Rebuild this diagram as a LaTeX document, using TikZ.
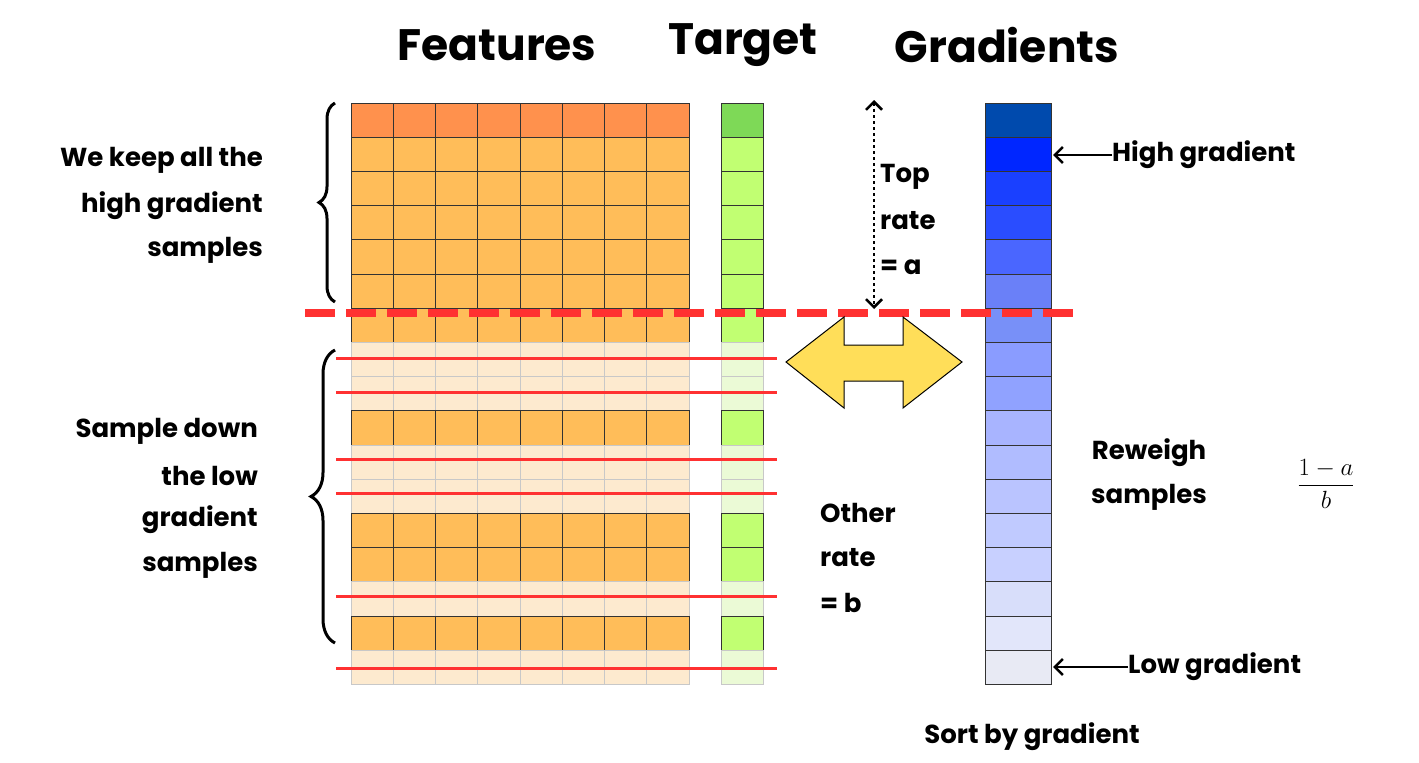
\documentclass[tikz,border=0pt]{standalone}
\usepackage{fontspec}
\setmainfont{Poppins}[BoldFont=* Bold]
\usetikzlibrary{decorations.pathreplacing,arrows.meta}
\definecolor{ftop}{HTML}{FF914D}
\definecolor{fcell}{HTML}{FFBD59}
\definecolor{ffade}{HTML}{FDEACF}
\definecolor{ttop}{HTML}{7ED957}
\definecolor{tcell}{HTML}{C1FF72}
\definecolor{tfade}{HTML}{EBFAD6}
\definecolor{fadeline}{HTML}{C8C8C8}
\definecolor{redl}{HTML}{FF3131}
\definecolor{yel}{HTML}{FFDE59}
\tikzset{
 cellbox/.style={draw=black!80, line width=0.8pt},
 fadebox/.style={draw=fadeline, line width=0.8pt},
 lbl/.style={font=\fontsize{26}{30}\selectfont\bfseries, inner sep=0pt},
 ttl/.style={font=\fontsize{44}{50}\selectfont\bfseries, inner sep=0pt},
 redline/.style={draw=redl, line width=3pt},
 brc/.style={decorate, decoration={brace,amplitude=16pt}, line width=3pt}
}
\begin{document}
\begin{tikzpicture}[x=1pt,y=-1pt]
\useasboundingbox (0,0) rectangle (1419,763);
\def\rh{34.2}
% grid
\foreach \r in {0,...,16}{
  \pgfmathsetmacro{\yt}{103+\rh*\r}
  \pgfmathsetmacro{\yb}{103+\rh*(\r+1)}
  \def\kind{1}
  \ifnum\r=0 \def\kind{0}\fi
  \ifnum\r=7 \def\kind{2}\fi
  \ifnum\r=8 \def\kind{2}\fi
  \ifnum\r=10 \def\kind{2}\fi
  \ifnum\r=11 \def\kind{2}\fi
  \ifnum\r=14 \def\kind{2}\fi
  \ifnum\r=16 \def\kind{2}\fi
  \foreach \c in {0,...,7}{
    \pgfmathsetmacro{\xl}{351+42.25*\c}
    \pgfmathsetmacro{\xr}{351+42.25*(\c+1)}
    \ifnum\kind=0 \draw[cellbox,fill=ftop] (\xl,\yt) rectangle (\xr,\yb);\fi
    \ifnum\kind=1 \draw[cellbox,fill=fcell] (\xl,\yt) rectangle (\xr,\yb);\fi
    \ifnum\kind=2 \draw[fadebox,fill=ffade] (\xl,\yt) rectangle (\xr,\yb);\fi
  }
  \ifnum\kind=0 \draw[cellbox,fill=ttop] (721,\yt) rectangle (763,\yb);\fi
  \ifnum\kind=1 \draw[cellbox,fill=tcell] (721,\yt) rectangle (763,\yb);\fi
  \ifnum\kind=2 \draw[fadebox,fill=tfade] (721,\yt) rectangle (763,\yb);\fi
}
% gradients
\def\gcols{{"004AAD","0026FF","1A40FF","2A4DFF","4A66FF","6A80F8","7890F8","8A9CFF","90A2FF","A8B4FF","B0BCFF","BAC4FF","C0CAFF","C8D0FF","D8DEFA","E2E6FA","E8EAF4"}}
\foreach \r in {0,...,16}{
  \pgfmathsetmacro{\yt}{103+\rh*\r}
  \pgfmathsetmacro{\yb}{103+\rh*(\r+1)}
  \pgfmathsetmacro{\hx}{\gcols[\r]}
  \definecolor{gc}{HTML}{\hx}
  \draw[cellbox,fill=gc] (985,\yt) rectangle (1051,\yb);
}
% red lines
\foreach \y in {358,392,459,493,596,668}{
  \coordinate (rl\y) at (336,\y); \coordinate (rr\y) at (777,\y);
  \draw[redline] (rl\y) -- (rr\y);
}
\coordinate (dl) at (305,313); \coordinate (dr) at (1075,313);
\draw[redl, line width=8pt, dash pattern=on 30pt off 11pt] (dl) -- (dr);
% top rate arrow
\coordinate (ta) at (874,100); \coordinate (tb) at (874,309);
\draw[dashed, line width=2.5pt, {Straight Barb[length=8pt]}-{Straight Barb[length=8pt]}] (ta) -- (tb);
% yellow double arrow
\draw[fill=yel, draw=black, line width=1pt] (786,362) -- (844,317) -- (844,345) -- (903,345) -- (903,317) -- (962,362) -- (903,408) -- (903,381) -- (844,381) -- (844,408) -- cycle;
% braces
\coordinate (b1a) at (335,302); \coordinate (b1b) at (335,103);
\draw[brc] (b1a) -- (b1b);
\coordinate (b2a) at (335,643); \coordinate (b2b) at (335,350);
\draw[brc, decoration={brace,amplitude=24pt}] (b2a) -- (b2b);
% titles
\node[ttl] (tf) at (497,45) {Features};
\node[ttl] (tt) at (743,45) {Target};
\node[ttl] (tg) at (1007,45) {Gradients};
% left labels
\node[lbl, anchor=east] (l1) at (263,160) {We keep all the};
\node[lbl, anchor=east] (l2) at (263,206) {high gradient};
\node[lbl, anchor=east] (l3) at (263,250) {samples};
\node[lbl, anchor=east] (l4) at (258,431) {Sample down};
\node[lbl, anchor=east] (l5) at (258,476) {the low};
\node[lbl, anchor=east] (l6) at (258,520) {gradient};
\node[lbl, anchor=east] (l7) at (258,565) {samples};
% rates
\node[lbl, anchor=west] (r1) at (880,177) {Top};
\node[lbl, anchor=west] (r2) at (880,221) {rate};
\node[lbl, anchor=west] (r3) at (880,267) {= a};
\node[lbl, anchor=west] (o1) at (820,513) {Other};
\node[lbl, anchor=west] (o2) at (820,558) {rate};
\node[lbl, anchor=west] (o3) at (820,603) {= b};
% right
\node[lbl, anchor=west] (hg) at (1112,155) {High gradient};
\node[lbl, anchor=west] (lg) at (1128,667) {Low gradient};
\coordinate (hgc) at (1053,155); \coordinate (lgc) at (1053,667);
\draw[line width=2.5pt, -{Straight Barb[length=8pt]}] (hg.west) -- (hgc);
\draw[line width=2.5pt, -{Straight Barb[length=8pt]}] (lg.west) -- (lgc);
\node[lbl] (rw1) at (1149,453) {Reweigh};
\node[lbl] (rw2) at (1149,497) {samples};
\node[inner sep=0pt, font=\fontsize{50}{60}\selectfont] (fr) at (1326,484) {$\displaystyle\frac{1-a}{b}$};
\node[lbl] (sg) at (1032,737) {Sort by gradient};
\end{tikzpicture}
\end{document}
